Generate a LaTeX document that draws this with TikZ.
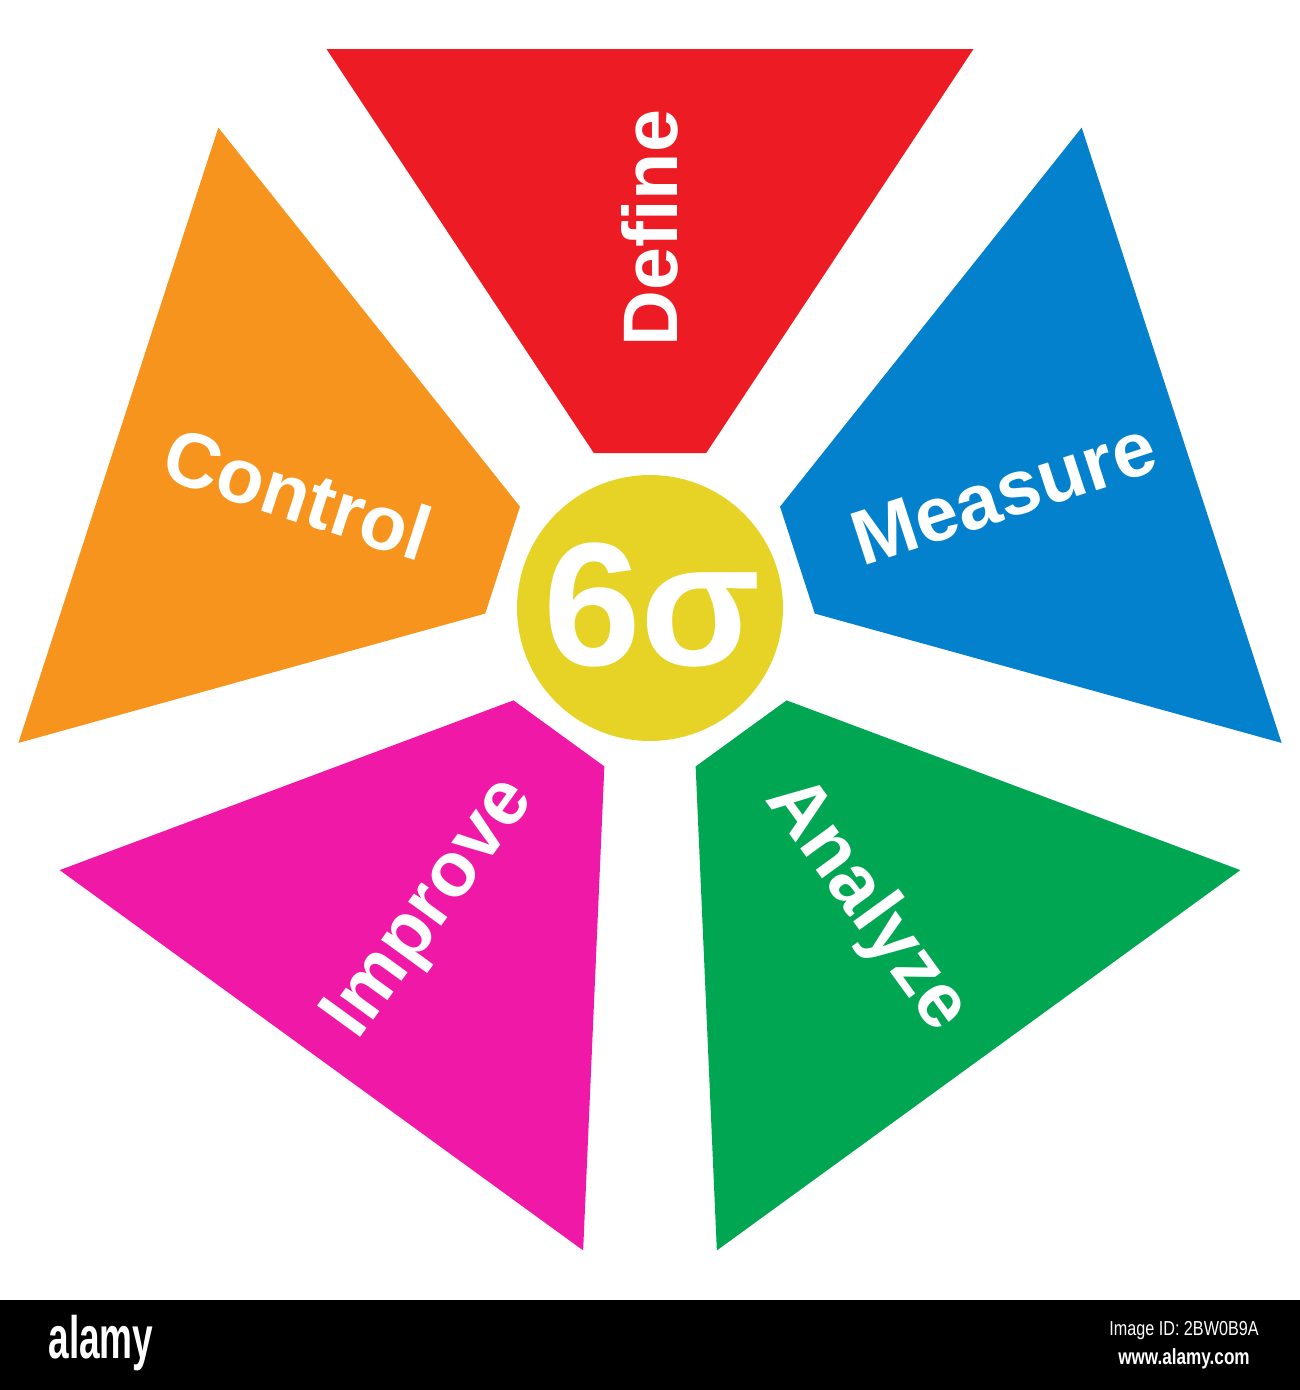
\documentclass[tikz,border=0pt]{standalone}
\usepackage{fontspec}
\setmainfont{Liberation Sans}
\definecolor{defc}{RGB}{237,28,36}
\definecolor{meac}{RGB}{3,129,204}
\definecolor{anac}{RGB}{0,166,81}
\definecolor{impc}{RGB}{240,24,166}
\definecolor{conc}{RGB}{247,148,29}
\definecolor{sigc}{RGB}{231,211,38}
\tikzset{
  piece/.style={fill=#1},
  lbl/.style={text=white, font=\fontsize{44}{44}\selectfont\bfseries, inner sep=0pt},
  foot/.style={text=white, inner sep=0pt},
}
\newcommand{\mypiece}[2]{%
  \begin{scope}[shift={(650,608)}, yscale=-1, rotate=#1]
    \fill[piece=#2] (-323.5,559) -- (323.5,559) -- (56.2,155) -- (-56.2,155) -- cycle;
  \end{scope}}
\begin{document}
\begin{tikzpicture}[x=0.02cm, y=-0.02cm]
\useasboundingbox (0,0) rectangle (1300,1390);
\fill[white] (0,0) rectangle (1300,1390);
% pieces
\mypiece{0}{defc}
\mypiece{72}{meac}
\mypiece{144}{anac}
\mypiece{-144}{impc}
\mypiece{-72}{conc}
% labels
\begin{scope}[shift={(650,608)}, yscale=-1]
  \node[lbl, rotate=90] (define) at (90:380) {Define};
  \node[lbl, rotate=18] (measure) at (18:372) {Measure};
  \node[lbl, rotate=-54] (analyze) at (-54:368) {Analyze};
  \node[lbl, rotate=54] (improve) at (-126:372) {Improve};
  \node[lbl, rotate=-18] (control) at (162:370) {Control};
\end{scope}
% center
\node[circle, fill=sigc, minimum size=5.32cm, inner sep=0pt] (sigma) at (650,608) {};
\node[text=white, font=\fontsize{100}{100}\selectfont\bfseries, inner sep=0pt] (sigtext) at (652,605) {6σ};
% footer bar
\fill[black] (0,1300) rectangle (1300,1390);
\node[foot, font=\fontsize{34}{34}\selectfont\bfseries] (alamy) at (101,1343) {\scalebox{0.62}[1]{alamy}};
\node[foot, font=\fontsize{11.5}{11.5}\selectfont] (imgid) at (1184,1331) {\scalebox{0.8}[1]{Image ID: 2BW0B9A}};
\node[foot, font=\fontsize{12.5}{12.5}\selectfont\bfseries] (www) at (1184,1359) {\scalebox{0.78}[1]{www.alamy.com}};
\end{tikzpicture}
\end{document}
